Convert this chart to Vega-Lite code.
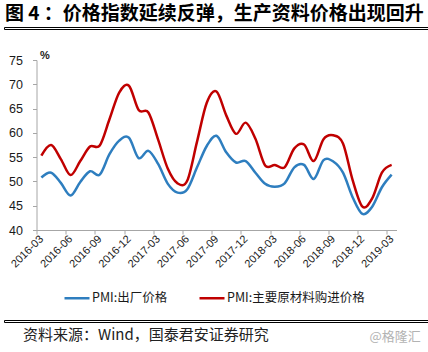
{
  "$schema": "https://vega.github.io/schema/vega-lite/v6.json",
  "padding": {"left": 3, "top": 4, "right": 0, "bottom": 0},
  "background": "white",
  "config": {"font": "Noto Sans CJK SC"},
  "title": {
    "text": "图 4 ：价格指数延续反弹，生产资料价格出现回升",
    "anchor": "start",
    "frame": "group",
    "dx": 1,
    "offset": 3,
    "fontSize": 19,
    "fontWeight": "bold",
    "font": "Noto Sans CJK SC",
    "color": "#000000"
  },
  "spacing": 31,
  "center": true,
  "bounds": "flush",
  "vconcat": [
    {
      "width": 425,
      "height": 2,
      "view": {"stroke": "#000000", "strokeWidth": 1},
      "data": {"values": []},
      "mark": "point",
      "encoding": {}
    },
    {
      "width": 360,
      "height": 170,
      "view": {"stroke": null},
      "data": {
        "values": [
          {"month": "2016-03", "blue": 50.8, "red": 55.3},
          {"month": "2016-04", "blue": 51.8, "red": 57.5},
          {"month": "2016-05", "blue": 49.7, "red": 54.6},
          {"month": "2016-06", "blue": 47.1, "red": 51.3},
          {"month": "2016-07", "blue": 49.9, "red": 54.2},
          {"month": "2016-08", "blue": 52.1, "red": 57.2},
          {"month": "2016-09", "blue": 51.4, "red": 57.4},
          {"month": "2016-10", "blue": 55.6, "red": 62.8},
          {"month": "2016-11", "blue": 58.4, "red": 68.3},
          {"month": "2016-12", "blue": 59.0, "red": 69.7},
          {"month": "2017-01", "blue": 54.8, "red": 64.7},
          {"month": "2017-02", "blue": 56.3, "red": 64.2},
          {"month": "2017-03", "blue": 53.6, "red": 58.6},
          {"month": "2017-04", "blue": 49.5, "red": 52.6},
          {"month": "2017-05", "blue": 47.7, "red": 49.6},
          {"month": "2017-06", "blue": 48.4, "red": 50.2},
          {"month": "2017-07", "blue": 52.9, "red": 58.2},
          {"month": "2017-08", "blue": 57.3, "red": 66.2},
          {"month": "2017-09", "blue": 59.4, "red": 68.5},
          {"month": "2017-10", "blue": 56.0, "red": 63.6},
          {"month": "2017-11", "blue": 53.9, "red": 59.8},
          {"month": "2017-12", "blue": 54.2, "red": 62.1},
          {"month": "2018-01", "blue": 51.8, "red": 58.8},
          {"month": "2018-02", "blue": 49.5, "red": 53.3},
          {"month": "2018-03", "blue": 48.9, "red": 53.4},
          {"month": "2018-04", "blue": 49.6, "red": 52.9},
          {"month": "2018-05", "blue": 52.9, "red": 56.8},
          {"month": "2018-06", "blue": 53.4, "red": 57.6},
          {"month": "2018-07", "blue": 50.5, "red": 54.2},
          {"month": "2018-08", "blue": 54.4, "red": 58.7},
          {"month": "2018-09", "blue": 54.1, "red": 59.5},
          {"month": "2018-10", "blue": 51.8, "red": 57.8},
          {"month": "2018-11", "blue": 46.7, "red": 50.2},
          {"month": "2018-12", "blue": 43.3, "red": 44.8},
          {"month": "2019-01", "blue": 44.8, "red": 46.5},
          {"month": "2019-02", "blue": 48.8, "red": 51.8},
          {"month": "2019-03", "blue": 51.4, "red": 53.4}
        ]
      },
      "transform": [
        {"fold": ["blue", "red"], "as": ["key", "value"]},
        {"lookup": "key", "from": {"data": {"values": [
          {"key": "blue", "series": "PMI:出厂价格"},
          {"key": "red", "series": "PMI:主要原材料购进价格"}
        ]}, "key": "key", "fields": ["series"]}}
      ],
      "encoding": {
        "x": {
          "field": "month",
          "type": "ordinal",
          "sort": null,
          "scale": {"type": "point", "padding": 0.5},
          "axis": {
            "values": ["2016-03","2016-06","2016-09","2016-12","2017-03","2017-06","2017-09","2017-12","2018-03","2018-06","2018-09","2018-12","2019-03"],
            "labelAngle": -45,
            "labelAlign": "right",
            "labelBaseline": "middle",
            "labelFontSize": 11,
            "labelFont": "Liberation Sans",
            "labelColor": "#1a1a1a",
            "labelPadding": 3,
            "tickOffset": -4.875,
            "labelOffset": 4.875,
            "tickSize": 4,
            "tickColor": "#a6a6a6",
            "domainColor": "#a6a6a6",
            "grid": false,
            "title": "资料来源：Wind，国泰君安证券研究",
            "titleX": -14,
            "titleY": 109,
            "titleAlign": "left",
            "titleAnchor": "start",
            "titleBaseline": "alphabetic",
            "titleFontSize": 15,
            "titleFontWeight": "normal",
            "titleFont": "Noto Sans CJK SC",
            "titleColor": "#222222"
          }
        },
        "color": {
          "field": "series",
          "type": "nominal",
          "scale": {"domain": ["PMI:出厂价格", "PMI:主要原材料购进价格"], "range": ["#2E7EBF", "#C00000"]},
          "legend": {
            "orient": "none",
            "legendX": 59,
            "legendY": 257,
            "direction": "horizontal",
            "title": null,
            "symbolType": "stroke",
            "symbolSize": 625,
            "symbolStrokeWidth": 2.5,
            "labelFontSize": 12.5,
            "labelFont": "Noto Sans CJK SC",
            "labelColor": "#1a1a1a",
            "labelOffset": 1,
            "columnPadding": 26,
            "padding": 0
          }
        }
      },
      "layer": [
        {
          "transform": [{"filter": "datum.key === 'blue'"}],
          "mark": {"type": "line", "interpolate": "cardinal", "strokeWidth": 2.5},
          "encoding": {
            "y": {
              "field": "value",
              "type": "quantitative",
              "scale": {"domain": [40, 75], "nice": false, "zero": false},
              "axis": {
                "values": [40, 45, 50, 55, 60, 65, 70, 75],
                "grid": false,
                "tickSize": 4,
                "labelPadding": 10,
                "labelFontSize": 12.5,
                "labelFont": "Liberation Sans",
                "labelColor": "#1a1a1a",
                "tickColor": "#a6a6a6",
                "domainColor": "#a6a6a6",
                "title": "%",
                "titleAngle": 0,
                "titleX": 3,
                "titleY": -2,
                "titleAlign": "left",
                "titleBaseline": "alphabetic",
                "titleFontSize": 11,
                "titleFont": "Liberation Sans",
                "titleFontWeight": "bold",
                "titleColor": "#1a1a1a"
              }
            }
          }
        },
        {
          "transform": [{"filter": "datum.key === 'red'"}],
          "mark": {"type": "line", "interpolate": "cardinal", "strokeWidth": 2.5},
          "encoding": {
            "y": {
              "field": "value",
              "type": "quantitative",
              "scale": {"domain": [40, 75], "nice": false, "zero": false},
              "axis": {
                "orient": "right",
                "labels": false,
                "ticks": false,
                "domain": false,
                "grid": false,
                "title": "@格隆汇",
                "titleAngle": 0,
                "titleX": -27.5,
                "titleY": 280,
                "titleAlign": "left",
                "titleBaseline": "alphabetic",
                "titleFontSize": 13,
                "titleFontWeight": "normal",
                "titleFont": "Noto Sans CJK SC",
                "titleColor": "#b3b3b3"
              }
            }
          }
        }
      ],
      "resolve": {"scale": {"y": "independent"}, "axis": {"y": "independent"}}
    },
    {
      "width": 425,
      "height": 28,
      "view": {"stroke": null},
      "data": {"values": []},
      "mark": "point",
      "encoding": {}
    },
    {
      "width": 425,
      "height": 2,
      "view": {"stroke": "#000000", "strokeWidth": 1},
      "data": {"values": []},
      "mark": "point",
      "encoding": {}
    }
  ]
}
